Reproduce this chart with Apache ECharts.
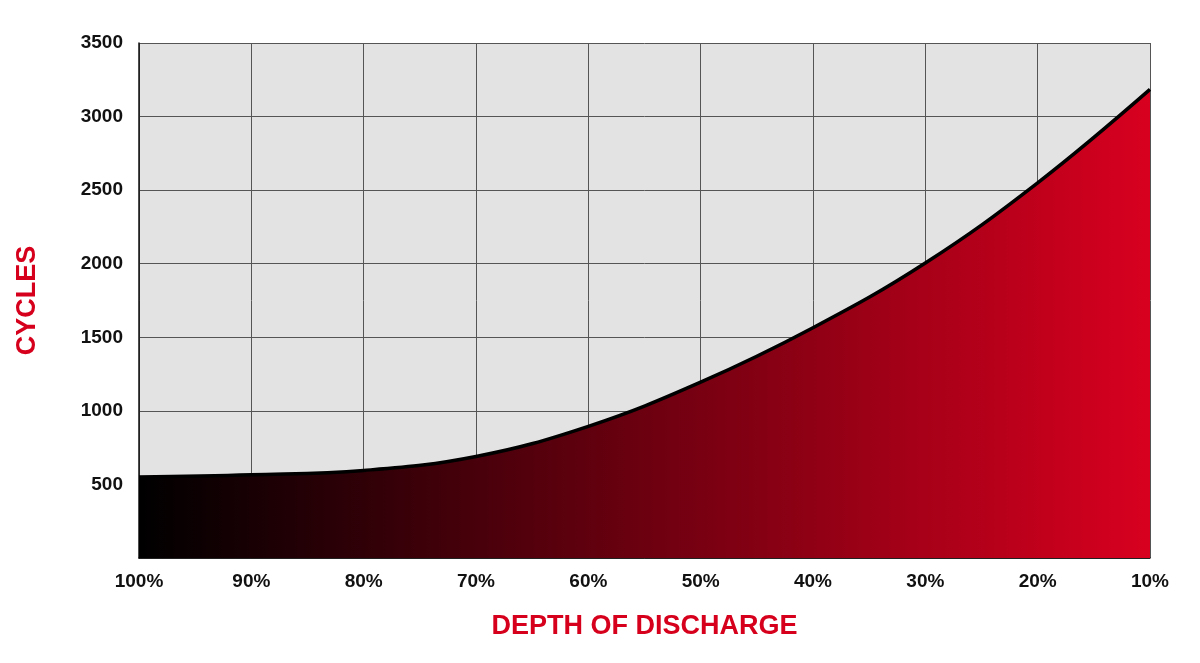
<!DOCTYPE html>
<html>
<head>
<meta charset="utf-8">
<script src="https://cdn.jsdelivr.net/npm/echarts@6/dist/echarts.min.js"></script>
<style>html,body{margin:0;padding:0;background:#fff}#chart{width:1200px;height:663px}</style>
</head>
<body>
<div id="chart"></div>
<script>
'use strict';

const depthLabels = ['100%', '90%', '80%', '70%', '60%', '50%', '40%', '30%', '20%', '10%'];
const cycles = [550, 565, 595, 690, 895, 1195, 1565, 2005, 2550, 3185];

const chart = echarts.init(document.getElementById('chart'));

const font = 'Liberation Sans, Arial, sans-serif';

const option = {
    animation: false,
    grid: {
        left: 139,
        right: 50,
        top: 43,
        bottom: 105,
        show: true,
        backgroundColor: '#e3e3e3',
        borderWidth: 0
    },
    xAxis: {
        type: 'category',
        boundaryGap: false,
        data: depthLabels,
        name: 'DEPTH OF DISCHARGE',
        nameLocation: 'middle',
        nameGap: 55,
        nameTextStyle: { color: '#d6001c', fontSize: 27, fontWeight: 'bold', fontFamily: font },
        axisLine: { lineStyle: { color: '#111', width: 1.5 } },
        axisTick: { show: false },
        axisLabel: { color: '#111', fontSize: 19, fontWeight: 'bold', fontFamily: font, margin: 14 },
        splitLine: { show: true, lineStyle: { color: '#555', width: 1 } }
    },
    yAxis: {
        type: 'value',
        min: 0,
        max: 3500,
        interval: 500,
        name: 'CYCLES',
        nameLocation: 'middle',
        nameRotate: 90,
        nameGap: 98,
        nameTextStyle: { color: '#d6001c', fontSize: 27, fontWeight: 'bold', fontFamily: font },
        axisLine: { show: true, lineStyle: { color: '#111', width: 1.5 } },
        axisTick: { show: false },
        axisLabel: {
            color: '#111', fontSize: 19, fontWeight: 'bold', fontFamily: font, margin: 16,
            formatter: v => (v === 0 ? '' : v)
        },
        splitLine: { show: true, lineStyle: { color: '#555', width: 1 } }
    },
    series: [{
        type: 'line',
        data: cycles,
        smooth: 0.4,
        symbol: 'none',
        lineStyle: { color: '#000', width: 3.5 },
        areaStyle: {
            opacity: 1,
            color: new echarts.graphic.LinearGradient(0, 0, 1, 0, [
                { offset: 0, color: '#000000' },
                { offset: 1, color: '#d8001f' }
            ])
        }
    }]
};

chart.setOption(option);
</script>
</body>
</html>
